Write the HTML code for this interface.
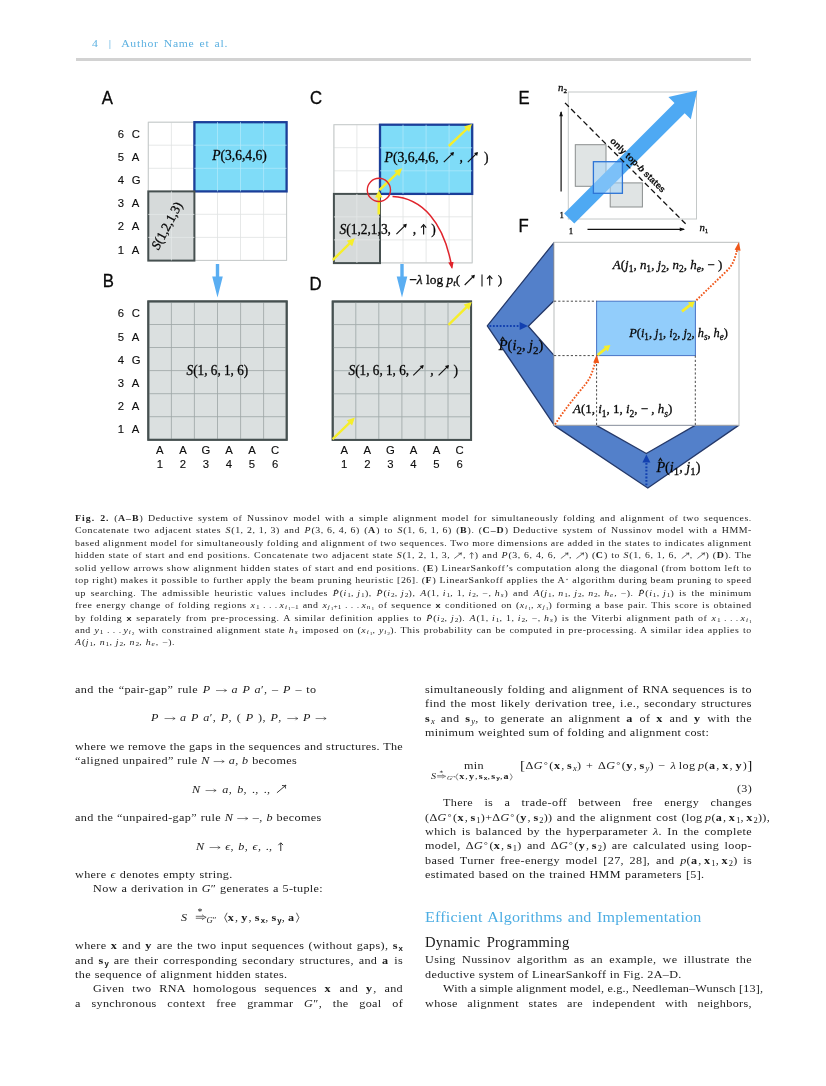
<!DOCTYPE html>
<html><head><meta charset="utf-8"><title>page</title>
<style>
html,body{margin:0;padding:0;background:#fff;}
#pg{position:relative;width:826px;height:1086px;overflow:hidden;background:#fff;font-family:"Liberation Serif",serif;color:#1a1a1a;}
.rule{position:absolute;left:75.7px;top:57.8px;width:675.3px;height:3px;background:#d2d2d2;}
.l{will-change:transform;position:absolute;white-space:nowrap;text-align:justify;text-align-last:justify;transform-origin:0 0;}
.l.c{font-size:7.6px;line-height:12px;letter-spacing:0.4px;color:#222;transform:scaleX(1.30);}
.l.b{font-size:10.3px;line-height:14px;letter-spacing:0.3px;transform:scaleX(1.18);}
.l.e{font-size:7.2px;line-height:10px;letter-spacing:0.2px;transform:scaleX(1.40);}
.l.h1{font-size:15.6px;line-height:18px;letter-spacing:0.2px;color:#4cade3;transform:scaleX(1.03);}
.l.h2{font-size:14.5px;line-height:16px;letter-spacing:0.2px;transform:scaleX(1.01);}
.l.hd{font-size:10.2px;line-height:14px;letter-spacing:0.62px;color:#5db1e1;transform:scaleX(1.15);}
sub,sup{font-size:0.7em;line-height:0;letter-spacing:0.1px;}
sub{vertical-align:-0.22em;} sup{vertical-align:0.42em;}
sub.ss{font-size:0.75em;vertical-align:-0.25em;}
.bx{font-family:"Liberation Sans",sans-serif;font-weight:bold;font-size:0.92em;}
.mb{font-weight:bold;}
.hat{position:relative;display:inline-block;text-align:left;text-align-last:left;}
.hat:before{content:"^";position:absolute;left:0.22em;top:-0.42em;font-size:0.8em;font-style:normal;}
svg.ne{display:inline-block;width:0.95em;height:0.95em;vertical-align:-0.12em;}
svg.ang{display:inline-block;width:0.38em;height:1.1em;vertical-align:-0.25em;}
svg.darr{display:inline-block;width:0.98em;height:0.64em;vertical-align:0.0em;}
.dst{position:relative;display:inline-block;}
.st{position:absolute;left:0.32em;top:-0.5em;font-size:0.55em;line-height:1;}
.bk{font-size:1.25em;line-height:0;position:relative;top:0.06em;}
#fig{position:absolute;left:0;top:0;will-change:transform;}

.ts{display:inline-block;width:0.16em;}
.dots{letter-spacing:0.32em;margin-right:-0.1em;}
svg.upa{display:inline-block;width:0.55em;height:0.92em;vertical-align:-0.12em;}
.l.c .ts{width:0.34em;}
.l.c i{letter-spacing:0.75px;}
.l.c b{letter-spacing:0.75px;}
.l.c sub{font-size:0.74em;}
.l.c .dots{letter-spacing:0.34em;}
svg.ra{display:inline-block;width:0.98em;height:0.49em;vertical-align:0.02em;}
.l.b .ts,.l.e .ts{width:0.2em;}
.l.b .mb{letter-spacing:1.0px;}
.l.b .deg{margin:0 0.9px 0 0.6px;}
.deg{font-size:0.85em;position:relative;top:-0.08em;}
#fig text{stroke:#111;stroke-width:0.3px;fill:#000;}
#fig text.sn{stroke:#111;stroke-width:0.12px;fill:#0a0a0a;}
#fig text.pl{stroke:#000;stroke-width:0.3px;}

</style></head>
<body>
<div id="pg">
<div class="rule"></div>
<svg id="fig" width="826" height="500" viewBox="0 0 826 500" font-family="Liberation Serif, serif">
<defs>
<marker id="mr" viewBox="0 0 10 10" refX="8" refY="5" markerUnits="userSpaceOnUse" markerWidth="7" markerHeight="7" orient="auto"><path d="M0 1L10 5L0 9z" fill="#e0242c"/></marker>
<marker id="mk" viewBox="0 0 10 10" refX="8" refY="5" markerWidth="5.2" markerHeight="4.4" orient="auto"><path d="M0 1.5L10 5L0 8.5z" fill="#111"/></marker>
</defs>
<text transform="translate(101.8,103.9) scale(0.93,1)" class="sn pl" font-family="Liberation Sans, sans-serif" font-size="18" fill="#000">A</text>
<path d="M148.3 122.2V260.4M148.3 122.2H286.6M171.4 122.2V260.4M148.3 145.2H286.6M194.4 122.2V260.4M148.3 168.3H286.6M217.5 122.2V260.4M148.3 191.3H286.6M240.5 122.2V260.4M148.3 214.3H286.6M263.6 122.2V260.4M148.3 237.4H286.6M286.6 122.2V260.4M148.3 260.4H286.6" stroke="#dfe2e2" stroke-width="0.8" fill="none"/>
<rect x="148.3" y="122.2" width="138.3" height="138.2" fill="none" stroke="#c6caca" stroke-width="1"/>
<rect x="194.4" y="122.2" width="92.2" height="69.2" fill="#7fdcf8" stroke="#1b3e99" stroke-width="2.3"/>
<rect x="148.3" y="191.4" width="46.1" height="69.2" fill="#d6dada" stroke="#465050" stroke-width="2.0"/>
<path d="M171.4 191.4V260.4M148.3 214.4H194.4M148.3 237.4H194.4" stroke="#e4e8e8" stroke-width="0.8" fill="none"/>
<path d="M217.5 122.2V191.4M240.5 122.2V191.4M263.6 122.2V191.4M194.4 145.2H286.6M194.4 168.3H286.6" stroke="#b4e9fb" stroke-width="0.7" fill="none"/>
<text x="117.8" y="138.2" class="sn" font-family="Liberation Sans, sans-serif" font-size="11.3" fill="#111">6</text>
<text x="131.8" y="138.2" class="sn" font-family="Liberation Sans, sans-serif" font-size="11.3" fill="#111">C</text>
<text x="117.8" y="161.3" class="sn" font-family="Liberation Sans, sans-serif" font-size="11.3" fill="#111">5</text>
<text x="131.8" y="161.3" class="sn" font-family="Liberation Sans, sans-serif" font-size="11.3" fill="#111">A</text>
<text x="117.8" y="184.3" class="sn" font-family="Liberation Sans, sans-serif" font-size="11.3" fill="#111">4</text>
<text x="131.8" y="184.3" class="sn" font-family="Liberation Sans, sans-serif" font-size="11.3" fill="#111">G</text>
<text x="117.8" y="207.4" class="sn" font-family="Liberation Sans, sans-serif" font-size="11.3" fill="#111">3</text>
<text x="131.8" y="207.4" class="sn" font-family="Liberation Sans, sans-serif" font-size="11.3" fill="#111">A</text>
<text x="117.8" y="230.4" class="sn" font-family="Liberation Sans, sans-serif" font-size="11.3" fill="#111">2</text>
<text x="131.8" y="230.4" class="sn" font-family="Liberation Sans, sans-serif" font-size="11.3" fill="#111">A</text>
<text x="117.8" y="253.5" class="sn" font-family="Liberation Sans, sans-serif" font-size="11.3" fill="#111">1</text>
<text x="131.8" y="253.5" class="sn" font-family="Liberation Sans, sans-serif" font-size="11.3" fill="#111">A</text>
<text x="239.5" y="160.3" font-size="13.6" fill="#111" text-anchor="middle"><tspan font-style="italic">P</tspan>(3,6,4,6)</text>
<text transform="translate(170.6,227.6) rotate(-62)" font-size="13.2" fill="#111" text-anchor="middle"><tspan font-style="italic">S</tspan>(1,2,1,3)</text>
<path d="M215.8 264.1V276.4H212.2L217.5 297.4L222.8 276.4H219.2V264.1z" fill="#5aaef2"/>
<text transform="translate(102.8,286.8) scale(0.93,1)" class="sn pl" font-family="Liberation Sans, sans-serif" font-size="18" fill="#000">B</text>
<rect x="148.3" y="301.4" width="138.4" height="138.4" fill="#dbe0e0" stroke="#465050" stroke-width="1.9"/>
<path d="M148.3 301.4V439.8M148.3 301.4H286.7M171.4 301.4V439.8M148.3 324.5H286.7M194.4 301.4V439.8M148.3 347.5H286.7M217.5 301.4V439.8M148.3 370.6H286.7M240.6 301.4V439.8M148.3 393.7H286.7M263.6 301.4V439.8M148.3 416.7H286.7M286.7 301.4V439.8M148.3 439.8H286.7" stroke="#9ca5a5" stroke-width="0.8" fill="none"/>
<rect x="148.3" y="301.4" width="138.4" height="138.4" fill="none" stroke="#465050" stroke-width="1.9"/>
<text x="117.8" y="317.4" class="sn" font-family="Liberation Sans, sans-serif" font-size="11.3" fill="#111">6</text>
<text x="131.8" y="317.4" class="sn" font-family="Liberation Sans, sans-serif" font-size="11.3" fill="#111">C</text>
<text x="117.8" y="340.5" class="sn" font-family="Liberation Sans, sans-serif" font-size="11.3" fill="#111">5</text>
<text x="131.8" y="340.5" class="sn" font-family="Liberation Sans, sans-serif" font-size="11.3" fill="#111">A</text>
<text x="117.8" y="363.6" class="sn" font-family="Liberation Sans, sans-serif" font-size="11.3" fill="#111">4</text>
<text x="131.8" y="363.6" class="sn" font-family="Liberation Sans, sans-serif" font-size="11.3" fill="#111">G</text>
<text x="117.8" y="386.6" class="sn" font-family="Liberation Sans, sans-serif" font-size="11.3" fill="#111">3</text>
<text x="131.8" y="386.6" class="sn" font-family="Liberation Sans, sans-serif" font-size="11.3" fill="#111">A</text>
<text x="117.8" y="409.7" class="sn" font-family="Liberation Sans, sans-serif" font-size="11.3" fill="#111">2</text>
<text x="131.8" y="409.7" class="sn" font-family="Liberation Sans, sans-serif" font-size="11.3" fill="#111">A</text>
<text x="117.8" y="432.8" class="sn" font-family="Liberation Sans, sans-serif" font-size="11.3" fill="#111">1</text>
<text x="131.8" y="432.8" class="sn" font-family="Liberation Sans, sans-serif" font-size="11.3" fill="#111">A</text>
<text x="159.8" y="453.6" class="sn" font-family="Liberation Sans, sans-serif" font-size="11.3" fill="#111" text-anchor="middle">A</text>
<text x="159.8" y="468.2" class="sn" font-family="Liberation Sans, sans-serif" font-size="11.3" fill="#111" text-anchor="middle">1</text>
<text x="182.9" y="453.6" class="sn" font-family="Liberation Sans, sans-serif" font-size="11.3" fill="#111" text-anchor="middle">A</text>
<text x="182.9" y="468.2" class="sn" font-family="Liberation Sans, sans-serif" font-size="11.3" fill="#111" text-anchor="middle">2</text>
<text x="205.9" y="453.6" class="sn" font-family="Liberation Sans, sans-serif" font-size="11.3" fill="#111" text-anchor="middle">G</text>
<text x="205.9" y="468.2" class="sn" font-family="Liberation Sans, sans-serif" font-size="11.3" fill="#111" text-anchor="middle">3</text>
<text x="229.0" y="453.6" class="sn" font-family="Liberation Sans, sans-serif" font-size="11.3" fill="#111" text-anchor="middle">A</text>
<text x="229.0" y="468.2" class="sn" font-family="Liberation Sans, sans-serif" font-size="11.3" fill="#111" text-anchor="middle">4</text>
<text x="252.0" y="453.6" class="sn" font-family="Liberation Sans, sans-serif" font-size="11.3" fill="#111" text-anchor="middle">A</text>
<text x="252.0" y="468.2" class="sn" font-family="Liberation Sans, sans-serif" font-size="11.3" fill="#111" text-anchor="middle">5</text>
<text x="275.1" y="453.6" class="sn" font-family="Liberation Sans, sans-serif" font-size="11.3" fill="#111" text-anchor="middle">C</text>
<text x="275.1" y="468.2" class="sn" font-family="Liberation Sans, sans-serif" font-size="11.3" fill="#111" text-anchor="middle">6</text>
<text x="186.6" y="374.8" font-size="13.6" fill="#111" textLength="61.6" lengthAdjust="spacingAndGlyphs"><tspan font-style="italic">S</tspan>(1, 6, 1, 6)</text>
<text transform="translate(310.0,103.6) scale(0.93,1)" class="sn pl" font-family="Liberation Sans, sans-serif" font-size="18" fill="#000">C</text>
<path d="M333.9 124.7V262.9M333.9 124.7H472.2M356.9 124.7V262.9M333.9 147.7H472.2M380.0 124.7V262.9M333.9 170.8H472.2M403.0 124.7V262.9M333.9 193.8H472.2M426.1 124.7V262.9M333.9 216.8H472.2M449.1 124.7V262.9M333.9 239.9H472.2M472.2 124.7V262.9M333.9 262.9H472.2" stroke="#dfe2e2" stroke-width="0.8" fill="none"/>
<rect x="333.9" y="124.7" width="138.3" height="138.2" fill="none" stroke="#c6caca" stroke-width="1"/>
<rect x="380.0" y="124.7" width="92.2" height="69.2" fill="#7fdcf8" stroke="#1b3e99" stroke-width="2.3"/>
<rect x="333.9" y="193.9" width="46.1" height="69.2" fill="#d6dada" stroke="#465050" stroke-width="2.0"/>
<path d="M356.9 193.9V262.9M333.9 216.9H380.0M333.9 239.9H380.0" stroke="#e4e8e8" stroke-width="0.8" fill="none"/>
<path d="M403.0 124.7V193.9M426.1 124.7V193.9M449.1 124.7V193.9M380.0 147.8H472.2M380.0 170.8H472.2" stroke="#b4e9fb" stroke-width="0.7" fill="none"/>
<polygon points="333.6,260.9 350.3,244.4 352.2,246.2 354.9,238.2 346.8,240.8 348.6,242.7 332.0,259.1" fill="#f6ee2a"/>
<polygon points="380.1,214.5 380.1,197.5 382.6,197.5 378.8,190.5 375.0,197.5 377.5,197.5 377.5,214.5" fill="#f6ee2a"/>
<polygon points="380.2,190.9 397.5,174.4 399.3,176.3 402.2,168.3 394.1,170.8 395.9,172.7 378.6,189.1" fill="#f6ee2a"/>
<polygon points="449.6,146.9 467.3,130.1 469.1,132.0 472.0,124.0 463.9,126.5 465.7,128.4 448.0,145.1" fill="#f6ee2a"/>
<circle cx="378.9" cy="189.9" r="11.6" fill="none" stroke="#e0242c" stroke-width="1.4"/>
<path d="M392.5 196.6C422 198 444 222 451.9 267.6" fill="none" stroke="#e0242c" stroke-width="1.5" marker-end="url(#mr)"/>
<text x="384.6" y="161.8" font-size="13.6" fill="#111" textLength="54" lengthAdjust="spacingAndGlyphs"><tspan font-style="italic">P</tspan>(3,6,4,6,</text>
<path d="M443.8 162.2L453.2 152.8" fill="none" stroke="#111" stroke-width="1.15"/>
<path d="M454.0 152.0L450.0 152.9L453.1 156.0z" fill="#111"/>
<text x="459.6" y="161.8" font-size="13.6" fill="#111">,</text>
<path d="M467.8 162.2L477.2 152.8" fill="none" stroke="#111" stroke-width="1.15"/>
<path d="M478.0 152.0L474.0 152.9L477.1 156.0z" fill="#111"/>
<text x="484.0" y="161.8" font-size="13.6" fill="#111">)</text>
<text x="339.5" y="233.8" font-size="13.6" fill="#111" textLength="51.5" lengthAdjust="spacingAndGlyphs"><tspan font-style="italic">S</tspan>(1,2,1,3,</text>
<path d="M396.4 234.2L406.0 224.6" fill="none" stroke="#111" stroke-width="1.15"/>
<path d="M406.8 223.8L402.7 224.7L405.9 227.9z" fill="#111"/>
<text x="412.8" y="233.8" font-size="13.6" fill="#111">,</text>
<path d="M423.6 234.4V225.4" fill="none" stroke="#111" stroke-width="1.15"/>
<path d="M421.0 227.6L423.6 224.7L426.2 227.6M423.6 234.4" fill="none" stroke="#111" stroke-width="1.15" stroke-linejoin="miter"/>
<text x="431.2" y="233.8" font-size="13.6" fill="#111">)</text>
<path d="M400.3 264.1V276.4H396.7L402.0 297.4L407.3 276.4H403.7V264.1z" fill="#5aaef2"/>
<text x="409.2" y="283.6" font-size="13.4" fill="#111" textLength="51" lengthAdjust="spacingAndGlyphs"><tspan font-weight="bold">−</tspan><tspan font-style="italic">λ</tspan> log <tspan font-style="italic">p</tspan><tspan font-style="italic" font-size="9" dy="2.5">t</tspan><tspan dy="-2.5">(</tspan></text>
<path d="M464.7 285.0L474.1 275.6" fill="none" stroke="#111" stroke-width="1.15"/>
<path d="M474.9 274.8L470.9 275.7L474.0 278.8z" fill="#111"/>
<path d="M482 274.6V286.6" stroke="#111" stroke-width="1.1"/>
<path d="M489.7 285.6V276.6" fill="none" stroke="#111" stroke-width="1.15"/>
<path d="M487.1 278.8L489.7 275.9L492.3 278.8M489.7 285.6" fill="none" stroke="#111" stroke-width="1.15" stroke-linejoin="miter"/>
<text x="497.8" y="283.6" font-size="13.4" fill="#111">)</text>
<text transform="translate(309.6,289.5) scale(0.93,1)" class="sn pl" font-family="Liberation Sans, sans-serif" font-size="18" fill="#000">D</text>
<rect x="332.7" y="301.5" width="138.4" height="138.4" fill="#dbe0e0" stroke="#465050" stroke-width="1.9"/>
<path d="M332.7 301.5V439.9M332.7 301.5H471.1M355.8 301.5V439.9M332.7 324.6H471.1M378.8 301.5V439.9M332.7 347.6H471.1M401.9 301.5V439.9M332.7 370.7H471.1M425.0 301.5V439.9M332.7 393.8H471.1M448.0 301.5V439.9M332.7 416.8H471.1M471.1 301.5V439.9M332.7 439.9H471.1" stroke="#a3acac" stroke-width="0.9" fill="none"/>
<rect x="332.7" y="301.5" width="138.4" height="138.4" fill="none" stroke="#465050" stroke-width="1.9"/>
<polygon points="333.4,440.1 350.3,423.7 352.1,425.6 354.9,417.6 346.8,420.2 348.6,422.0 331.8,438.3" fill="#f6ee2a"/>
<polygon points="449.3,325.8 467.2,308.2 469.0,310.0 471.8,302.0 463.7,304.6 465.5,306.5 447.7,324.0" fill="#f6ee2a"/>
<text x="344.2" y="453.6" class="sn" font-family="Liberation Sans, sans-serif" font-size="11.3" fill="#111" text-anchor="middle">A</text>
<text x="344.2" y="468.2" class="sn" font-family="Liberation Sans, sans-serif" font-size="11.3" fill="#111" text-anchor="middle">1</text>
<text x="367.3" y="453.6" class="sn" font-family="Liberation Sans, sans-serif" font-size="11.3" fill="#111" text-anchor="middle">A</text>
<text x="367.3" y="468.2" class="sn" font-family="Liberation Sans, sans-serif" font-size="11.3" fill="#111" text-anchor="middle">2</text>
<text x="390.4" y="453.6" class="sn" font-family="Liberation Sans, sans-serif" font-size="11.3" fill="#111" text-anchor="middle">G</text>
<text x="390.4" y="468.2" class="sn" font-family="Liberation Sans, sans-serif" font-size="11.3" fill="#111" text-anchor="middle">3</text>
<text x="413.4" y="453.6" class="sn" font-family="Liberation Sans, sans-serif" font-size="11.3" fill="#111" text-anchor="middle">A</text>
<text x="413.4" y="468.2" class="sn" font-family="Liberation Sans, sans-serif" font-size="11.3" fill="#111" text-anchor="middle">4</text>
<text x="436.5" y="453.6" class="sn" font-family="Liberation Sans, sans-serif" font-size="11.3" fill="#111" text-anchor="middle">A</text>
<text x="436.5" y="468.2" class="sn" font-family="Liberation Sans, sans-serif" font-size="11.3" fill="#111" text-anchor="middle">5</text>
<text x="459.6" y="453.6" class="sn" font-family="Liberation Sans, sans-serif" font-size="11.3" fill="#111" text-anchor="middle">C</text>
<text x="459.6" y="468.2" class="sn" font-family="Liberation Sans, sans-serif" font-size="11.3" fill="#111" text-anchor="middle">6</text>
<text x="348.6" y="374.8" font-size="13.6" fill="#111" textLength="60.5" lengthAdjust="spacingAndGlyphs"><tspan font-style="italic">S</tspan>(1, 6, 1, 6,</text>
<path d="M413.3 375.4L422.9 365.8" fill="none" stroke="#111" stroke-width="1.15"/>
<path d="M423.7 365.0L419.6 365.9L422.8 369.1z" fill="#111"/>
<text x="430.2" y="374.8" font-size="13.6" fill="#111">,</text>
<path d="M438.6 375.4L448.2 365.8" fill="none" stroke="#111" stroke-width="1.15"/>
<path d="M449.0 365.0L444.9 365.9L448.1 369.1z" fill="#111"/>
<text x="453.6" y="374.8" font-size="13.6" fill="#111">)</text>
<text transform="translate(518.6,103.9) scale(0.93,1)" class="sn pl" font-family="Liberation Sans, sans-serif" font-size="18" fill="#000">E</text>
<rect x="568.3" y="92.0" width="128.2" height="127.0" fill="#fff" stroke="#c4c8c8" stroke-width="1"/>
<rect x="575.3" y="144.7" width="30.7" height="41.6" fill="#e0e4e4" stroke="#8a8e8e" stroke-width="1"/>
<rect x="610.2" y="182.9" width="32.2" height="24.1" fill="#e0e4e4" stroke="#8a8e8e" stroke-width="1"/>
<polygon points="574.3,223.6 684.7,113.3 690.8,119.3 697.3,90.5 668.4,97.0 674.5,103.1 564.1,213.4" fill="#4ea9f3"/>
<rect x="593.4" y="161.7" width="29" height="31.6" fill="rgba(160,212,252,0.55)" stroke="#2d74d6" stroke-width="1.3"/>
<path d="M565.0 102.9L685.6 223.8" stroke="#111" stroke-width="1.3" stroke-dasharray="5.5 3.2" fill="none"/>
<path d="M561.1 191.5V112" stroke="#111" stroke-width="1.2" marker-end="url(#mk)"/>
<path d="M587.5 229.3H684" stroke="#111" stroke-width="1.2" marker-end="url(#mk)"/>
<text transform="translate(609.5,141.5) rotate(44.5)" class="sn" font-family="Liberation Sans, sans-serif" font-size="9.2" font-weight="bold" fill="#111">only top-<tspan font-style="italic">b</tspan> states</text>
<text x="558.0" y="91.4" font-size="10.8" fill="#111"><tspan font-style="italic">n</tspan><tspan font-size="7" dy="2">2</tspan></text>
<text x="699.4" y="231.2" font-size="10.8" fill="#111"><tspan font-style="italic">n</tspan><tspan font-size="7" dy="2">1</tspan></text>
<text x="559.6" y="217.8" font-size="8.8" fill="#111">1</text>
<text x="568.8" y="233.8" font-size="8.8" fill="#111">1</text>
<text transform="translate(518.4,232.1) scale(0.93,1)" class="sn pl" font-family="Liberation Sans, sans-serif" font-size="18" fill="#000">F</text>
<polygon points="554,242.6 487.3,325.8 554,424.8 554,355.4 528.3,326.2 554,300.8" fill="#5380ca" stroke="#25396a" stroke-width="1.3" stroke-linejoin="round"/>
<polygon points="554,425.4 738.6,425.4 647.8,488" fill="#5380ca" stroke="#25396a" stroke-width="1.3" stroke-linejoin="round"/>
<polygon points="596.4,425.4 695.2,425.4 646.3,453.5" fill="#fff" stroke="#25396a" stroke-width="1.3" stroke-linejoin="round"/>
<rect x="554.0" y="242.3" width="185.0" height="182.9" fill="#fff" stroke="#b9bdbd" stroke-width="1"/>
<rect x="596.6" y="301.2" width="98.8" height="54.4" fill="#92cdfb" stroke="#4774c6" stroke-width="1"/>
<path d="M554 301.2H596.6M554 355.6H596.6M596.6 355.6V425M695.3 355.6V425" stroke="#4a4a4a" stroke-width="1" stroke-dasharray="2.2 2" fill="none"/>
<path d="M555 424.4C563 412 571 402 578.1 393.2C583 387 587 383 589.6 378C592 373 593.5 369 595.6 361" fill="none" stroke="#f0571a" stroke-width="1.9" stroke-dasharray="1.7 1.5"/>
<path d="M593.2 362.6L596.8 354.6L599.2 363.2z" fill="#f0571a"/>
<path d="M696.4 300.2L725.6 272C730 268 732.6 264 734.3 259.4C735.5 256 736.3 253 737.4 249" fill="none" stroke="#f0571a" stroke-width="1.9" stroke-dasharray="1.7 1.5"/>
<path d="M734.6 249.8L738.8 242.2L740.6 250.8z" fill="#f0571a"/>
<polygon points="598.4,356.1 606.5,349.8 607.9,351.5 610.4,345.0 603.5,345.9 604.8,347.6 596.8,353.9" fill="#f6ee2a"/>
<polygon points="682.8,312.5 690.9,306.2 692.3,307.9 694.8,301.4 687.9,302.3 689.2,304.0 681.2,310.3" fill="#f6ee2a"/>
<path d="M489.5 326H519" stroke="#1240b0" stroke-width="2.1" stroke-dasharray="1.8 1.6" fill="none"/>
<path d="M519.6 322L528 326L519.6 330z" fill="#1240b0"/>
<path d="M646.4 485.2V463" stroke="#1240b0" stroke-width="2.1" stroke-dasharray="1.8 1.6" fill="none"/>
<path d="M642.4 462.4L646.4 454.6L650.4 462.4z" fill="#1240b0"/>
<text x="612.8" y="268.8" font-size="13" fill="#111" lengthAdjust="spacingAndGlyphs" textLength="109.4"><tspan font-style="italic">A</tspan>(<tspan font-style="italic">j</tspan><tspan font-size="9.6" dy="3.3">1</tspan><tspan dy="-3.3">​</tspan>, <tspan font-style="italic">n</tspan><tspan font-size="9.6" dy="3.3">1</tspan><tspan dy="-3.3">​</tspan>, <tspan font-style="italic">j</tspan><tspan font-size="9.6" dy="3.3">2</tspan><tspan dy="-3.3">​</tspan>, <tspan font-style="italic">n</tspan><tspan font-size="9.6" dy="3.3">2</tspan><tspan dy="-3.3">​</tspan>, <tspan font-style="italic">h</tspan><tspan font-size="9.6" dy="3.3" font-style="italic">e</tspan><tspan dy="-3.3">​</tspan>, − )</text>
<text x="629.2" y="336.6" font-size="13" fill="#111" lengthAdjust="spacingAndGlyphs" textLength="98.8"><tspan font-style="italic">P</tspan>(<tspan font-style="italic">i</tspan><tspan font-size="9.6" dy="3.3">1</tspan><tspan dy="-3.3">​</tspan>, <tspan font-style="italic">j</tspan><tspan font-size="9.6" dy="3.3">1</tspan><tspan dy="-3.3">​</tspan>, <tspan font-style="italic">i</tspan><tspan font-size="9.6" dy="3.3">2</tspan><tspan dy="-3.3">​</tspan>, <tspan font-style="italic">j</tspan><tspan font-size="9.6" dy="3.3">2</tspan><tspan dy="-3.3">​</tspan>, <tspan font-style="italic">h</tspan><tspan font-size="9.6" dy="3.3" font-style="italic">s</tspan><tspan dy="-3.3">​</tspan>, <tspan font-style="italic">h</tspan><tspan font-size="9.6" dy="3.3" font-style="italic">e</tspan><tspan dy="-3.3">​</tspan>)</text>
<text x="573.0" y="413.4" font-size="13" fill="#111" lengthAdjust="spacingAndGlyphs" textLength="99.2"><tspan font-style="italic">A</tspan>(1, <tspan font-style="italic">i</tspan><tspan font-size="9.6" dy="3.3">1</tspan><tspan dy="-3.3">​</tspan>, 1, <tspan font-style="italic">i</tspan><tspan font-size="9.6" dy="3.3">2</tspan><tspan dy="-3.3">​</tspan>, − , <tspan font-style="italic">h</tspan><tspan font-size="9.6" dy="3.3" font-style="italic">s</tspan><tspan dy="-3.3">​</tspan>)</text>
<text x="498.8" y="350.4" font-size="14.2" fill="#111" lengthAdjust="spacingAndGlyphs" textLength="44.6"><tspan font-style="italic">P</tspan>(<tspan font-style="italic">i</tspan><tspan font-size="10.8" dy="3.8">2</tspan><tspan dy="-3.8">​</tspan>, <tspan font-style="italic">j</tspan><tspan font-size="10.8" dy="3.8">2</tspan><tspan dy="-3.8">​</tspan>)</text>
<path d="M501 339.9L502.7 337.2L504.4 339.9" fill="none" stroke="#111" stroke-width="1.1"/>
<text x="656.4" y="471.6" font-size="14.2" fill="#111" lengthAdjust="spacingAndGlyphs" textLength="44"><tspan font-style="italic">P</tspan>(<tspan font-style="italic">i</tspan><tspan font-size="10.8" dy="3.8">1</tspan><tspan dy="-3.8">​</tspan>, <tspan font-style="italic">j</tspan><tspan font-size="10.8" dy="3.8">1</tspan><tspan dy="-3.8">​</tspan>)</text>
<path d="M658.7 461.1L660.4 458.4L662.1 461.1" fill="none" stroke="#111" stroke-width="1.1"/>
</svg>
<div class="l c" style="left:75.4px;top:512.7px;width:520.6px"><b>Fig. 2.</b> (<b>A–B</b>) Deductive system of Nussinov model with a simple alignment model for simultaneously folding and alignment of two sequences.</div>
<div class="l c" style="left:75.4px;top:525.2px;width:520.6px">Concatenate two adjacent states <i>S</i>(1,<span class="ts"></span>2,<span class="ts"></span>1,<span class="ts"></span>3) and <i>P</i>(3,<span class="ts"></span>6,<span class="ts"></span>4,<span class="ts"></span>6) (<b>A</b>) to <i>S</i>(1,<span class="ts"></span>6,<span class="ts"></span>1,<span class="ts"></span>6) (<b>B</b>). (<b>C–D</b>) Deductive system of Nussinov model with a HMM-</div>
<div class="l c" style="left:75.4px;top:537.7px;width:520.6px">based alignment model for simultaneously folding and alignment of two sequences. Two more dimensions are added in the states to indicates alignment</div>
<div class="l c" style="left:75.4px;top:550.1px;width:520.6px">hidden state of start and end positions. Concatenate two adjacent state <i>S</i>(1,<span class="ts"></span>2,<span class="ts"></span>1,<span class="ts"></span>3,<span class="ts"></span><svg class="ne" viewBox="0 0 10 10"><path d="M1 9L8.6 1.4M5.4 1.5Q7.4 2.2 8.8 1.2Q7.8 2.6 8.5 4.6" fill="none" stroke="currentColor" stroke-width="0.8"/></svg>,<span class="ts"></span><svg class="upa" viewBox="0 0 6 10"><path d="M3 9.6V1M0.8 3.4L3 0.8L5.2 3.4" fill="none" stroke="currentColor" stroke-width="0.85"/></svg>) and <i>P</i>(3,<span class="ts"></span>6,<span class="ts"></span>4,<span class="ts"></span>6,<span class="ts"></span><svg class="ne" viewBox="0 0 10 10"><path d="M1 9L8.6 1.4M5.4 1.5Q7.4 2.2 8.8 1.2Q7.8 2.6 8.5 4.6" fill="none" stroke="currentColor" stroke-width="0.8"/></svg>,<span class="ts"></span><svg class="ne" viewBox="0 0 10 10"><path d="M1 9L8.6 1.4M5.4 1.5Q7.4 2.2 8.8 1.2Q7.8 2.6 8.5 4.6" fill="none" stroke="currentColor" stroke-width="0.8"/></svg>) (<b>C</b>) to <i>S</i>(1,<span class="ts"></span>6,<span class="ts"></span>1,<span class="ts"></span>6,<span class="ts"></span><svg class="ne" viewBox="0 0 10 10"><path d="M1 9L8.6 1.4M5.4 1.5Q7.4 2.2 8.8 1.2Q7.8 2.6 8.5 4.6" fill="none" stroke="currentColor" stroke-width="0.8"/></svg>,<span class="ts"></span><svg class="ne" viewBox="0 0 10 10"><path d="M1 9L8.6 1.4M5.4 1.5Q7.4 2.2 8.8 1.2Q7.8 2.6 8.5 4.6" fill="none" stroke="currentColor" stroke-width="0.8"/></svg>) (<b>D</b>). The</div>
<div class="l c" style="left:75.4px;top:562.6px;width:520.6px">solid yellow arrows show alignment hidden states of start and end positions. (<b>E</b>) LinearSankoff’s computation along the diagonal (from bottom left to</div>
<div class="l c" style="left:75.4px;top:575.1px;width:520.6px">top right) makes it possible to further apply the beam pruning heuristic [26]. (<b>F</b>) LinearSankoff applies the A<sup>⋆</sup> algorithm during beam pruning to speed</div>
<div class="l c" style="left:75.4px;top:587.6px;width:520.6px">up searching. The admissible heuristic values includes <span class="hat"><i>P</i></span>(<i>i</i><sub>1</sub>,<span class="ts"></span><i>j</i><sub>1</sub>), <span class="hat"><i>P</i></span>(<i>i</i><sub>2</sub>,<span class="ts"></span><i>j</i><sub>2</sub>), <i>A</i>(1,<span class="ts"></span><i>i</i><sub>1</sub>,<span class="ts"></span>1,<span class="ts"></span><i>i</i><sub>2</sub>,<span class="ts"></span>−,<span class="ts"></span><i>h</i><sub><i>s</i></sub>) and <i>A</i>(<i>j</i><sub>1</sub>,<span class="ts"></span><i>n</i><sub>1</sub>,<span class="ts"></span><i>j</i><sub>2</sub>,<span class="ts"></span><i>n</i><sub>2</sub>,<span class="ts"></span><i>h</i><sub><i>e</i></sub>,<span class="ts"></span>−). <span class="hat"><i>P</i></span>(<i>i</i><sub>1</sub>,<span class="ts"></span><i>j</i><sub>1</sub>) is the minimum</div>
<div class="l c" style="left:75.4px;top:600.0px;width:520.6px">free energy change of folding regions <i>x</i><sub>1</sub><span class="ts"></span><span class="dots">...</span><i>x</i><sub><i>i</i><sub class="ss">1</sub>−1</sub> and <i>x</i><sub><i>j</i><sub class="ss">1</sub>+1</sub><span class="ts"></span><span class="dots">...</span><i>x</i><sub><i>n</i><sub class="ss">1</sub></sub> of sequence <span class="bx">x</span> conditioned on (<i>x</i><sub><i>i</i><sub class="ss">1</sub></sub>,<span class="ts"></span><i>x</i><sub><i>j</i><sub class="ss">1</sub></sub>) forming a base pair. This score is obtained</div>
<div class="l c" style="left:75.4px;top:612.5px;width:520.6px">by folding <span class="bx">x</span> separately from pre-processing. A similar definition applies to <span class="hat"><i>P</i></span>(<i>i</i><sub>2</sub>,<span class="ts"></span><i>j</i><sub>2</sub>). <i>A</i>(1,<span class="ts"></span><i>i</i><sub>1</sub>,<span class="ts"></span>1,<span class="ts"></span><i>i</i><sub>2</sub>,<span class="ts"></span>−,<span class="ts"></span><i>h</i><sub><i>s</i></sub>) is the Viterbi alignment path of <i>x</i><sub>1</sub><span class="ts"></span><span class="dots">...</span><i>x</i><sub><i>i</i><sub class="ss">1</sub></sub></div>
<div class="l c" style="left:75.4px;top:625.0px;width:520.6px">and <i>y</i><sub>1</sub><span class="ts"></span><span class="dots">...</span><i>y</i><sub><i>i</i><sub class="ss">2</sub></sub> with constrained alignment state <i>h</i><sub><i>s</i></sub> imposed on (<i>x</i><sub><i>i</i><sub class="ss">1</sub></sub>,<span class="ts"></span><i>y</i><sub><i>i</i><sub class="ss">2</sub></sub>). This probability can be computed in pre-processing. A similar idea applies to</div>
<div class="l c" style="left:75.4px;top:637.4px;width:79.5px"><i>A</i>(<i>j</i><sub>1</sub>,<span class="ts"></span><i>n</i><sub>1</sub>,<span class="ts"></span><i>j</i><sub>2</sub>,<span class="ts"></span><i>n</i><sub>2</sub>,<span class="ts"></span><i>h</i><sub><i>e</i></sub>,<span class="ts"></span>−).</div>
<div class="l b" style="left:75.4px;top:683.0px;width:204.7px">and the “pair-gap” rule <i>P</i> <svg class="ra" viewBox="0 0 20 10"><path d="M1 5H18.4M14.6 1.6Q15.8 4.2 18.8 5Q15.8 5.8 14.6 8.4" fill="none" stroke="currentColor" stroke-width="0.95"/></svg> <i>a P a</i>′, – <i>P</i> – to</div>
<div class="l b" style="left:150.7px;top:711.2px;width:149.4px"><i>P</i> <svg class="ra" viewBox="0 0 20 10"><path d="M1 5H18.4M14.6 1.6Q15.8 4.2 18.8 5Q15.8 5.8 14.6 8.4" fill="none" stroke="currentColor" stroke-width="0.95"/></svg> <i>a P a</i>′, <i>P</i>, ( <i>P</i> ), <i>P</i>, <svg class="ra" viewBox="0 0 20 10"><path d="M1 5H18.4M14.6 1.6Q15.8 4.2 18.8 5Q15.8 5.8 14.6 8.4" fill="none" stroke="currentColor" stroke-width="0.95"/></svg> <i>P</i> <svg class="ra" viewBox="0 0 20 10"><path d="M1 5H18.4M14.6 1.6Q15.8 4.2 18.8 5Q15.8 5.8 14.6 8.4" fill="none" stroke="currentColor" stroke-width="0.95"/></svg></div>
<div class="l b" style="left:75.4px;top:740.0px;width:278.0px;letter-spacing:0.276px">where we remove the gaps in the sequences and structures. The</div>
<div class="l b" style="left:75.4px;top:754.2px;width:188.2px">“aligned unpaired” rule <i>N</i> <svg class="ra" viewBox="0 0 20 10"><path d="M1 5H18.4M14.6 1.6Q15.8 4.2 18.8 5Q15.8 5.8 14.6 8.4" fill="none" stroke="currentColor" stroke-width="0.95"/></svg> <i>a</i>, <i>b</i> becomes</div>
<div class="l b" style="left:192.0px;top:782.6px;width:80.5px"><i>N</i> <svg class="ra" viewBox="0 0 20 10"><path d="M1 5H18.4M14.6 1.6Q15.8 4.2 18.8 5Q15.8 5.8 14.6 8.4" fill="none" stroke="currentColor" stroke-width="0.95"/></svg> <i>a</i>, <i>b</i>, ., ., <svg class="ne" viewBox="0 0 10 10"><path d="M1 9L8.6 1.4M5.4 1.5Q7.4 2.2 8.8 1.2Q7.8 2.6 8.5 4.6" fill="none" stroke="currentColor" stroke-width="0.8"/></svg></div>
<div class="l b" style="left:75.4px;top:811.1px;width:209.0px">and the “unpaired-gap” rule <i>N</i> <svg class="ra" viewBox="0 0 20 10"><path d="M1 5H18.4M14.6 1.6Q15.8 4.2 18.8 5Q15.8 5.8 14.6 8.4" fill="none" stroke="currentColor" stroke-width="0.95"/></svg> –, <i>b</i> becomes</div>
<div class="l b" style="left:196.4px;top:839.6px;width:74.2px"><i>N</i> <svg class="ra" viewBox="0 0 20 10"><path d="M1 5H18.4M14.6 1.6Q15.8 4.2 18.8 5Q15.8 5.8 14.6 8.4" fill="none" stroke="currentColor" stroke-width="0.95"/></svg> <i>ϵ</i>, <i>b</i>, <i>ϵ</i>, ., <svg class="upa" viewBox="0 0 6 10"><path d="M3 9.6V1M0.8 3.4L3 0.8L5.2 3.4" fill="none" stroke="currentColor" stroke-width="0.85"/></svg></div>
<div class="l b" style="left:75.4px;top:868.0px;width:133.6px">where <i>ϵ</i> denotes empty string.</div>
<div class="l b" style="left:93.4px;top:882.2px;width:195.0px">Now a derivation in <i>G</i>″ generates a 5-tuple:</div>
<div class="l b" style="left:180.7px;top:910.6px;width:100.8px;letter-spacing:0.646px"><i>S</i> <span class="dst"><svg class="darr" viewBox="0 0 12 8"><path d="M0.5 2.8H8.6M0.5 5.2H8.6M7 0.8Q8.6 3 11.2 4Q8.6 5 7 7.2" fill="none" stroke="currentColor" stroke-width="0.7"/></svg><span class="st">∗</span></span><sub><i>G</i>″</sub> <svg class="ang" viewBox="0 0 4 12"><path d="M3.2 0.8L1 6L3.2 11.2" fill="none" stroke="currentColor" stroke-width="0.7"/></svg><b class="mb">x</b>,<span class="ts"></span><b class="mb">y</b>,<span class="ts"></span><b class="mb">s</b><sub><span class="bx">x</span></sub>,<span class="ts"></span><b class="mb">s</b><sub><span class="bx">y</span></sub>,<span class="ts"></span><b class="mb">a</b><svg class="ang" viewBox="0 0 4 12"><path d="M0.8 0.8L3 6L0.8 11.2" fill="none" stroke="currentColor" stroke-width="0.7"/></svg></div>
<div class="l b" style="left:75.4px;top:939.1px;width:278.0px">where <b class="mb">x</b> and <b class="mb">y</b> are the two input sequences (without gaps), <b class="mb">s</b><sub><span class="bx">x</span></sub></div>
<div class="l b" style="left:75.4px;top:953.5px;width:278.0px">and <b class="mb">s</b><sub><span class="bx">y</span></sub> are their corresponding secondary structures, and <b class="mb">a</b> is</div>
<div class="l b" style="left:75.4px;top:967.8px;width:180.0px">the sequence of alignment hidden states.</div>
<div class="l b" style="left:93.4px;top:982.2px;width:262.7px">Given two RNA homologous sequences <b class="mb">x</b> and <b class="mb">y</b>, and</div>
<div class="l b" style="left:75.4px;top:996.5px;width:278.0px">a synchronous context free grammar <i>G</i>″, the goal of</div>
<div class="l b" style="left:425.4px;top:683.0px;width:277.1px">simultaneously folding and alignment of RNA sequences is to</div>
<div class="l b" style="left:425.4px;top:697.3px;width:277.1px">find the most likely derivation tree, i.e., secondary structures</div>
<div class="l b" style="left:425.4px;top:711.6px;width:277.1px"><b class="mb">s</b><sub><i>x</i></sub> and <b class="mb">s</b><sub><i>y</i></sub>, to generate an alignment <b class="mb">a</b> of <b class="mb">x</b> and <b class="mb">y</b> with the</div>
<div class="l b" style="left:425.4px;top:725.9px;width:240.9px;letter-spacing:0.271px">minimum weighted sum of folding and alignment cost:</div>
<div class="l b" style="left:737.0px;top:781.5px;width:13.1px;letter-spacing:0.259px">(3)</div>
<div class="l b" style="left:443.4px;top:796.1px;width:261.9px">There is a trade-off between free energy changes</div>
<div class="l b" style="left:425.4px;top:810.5px;width:292.5px">(Δ<i>G</i><span class="deg">°</span>(<b class="mb">x</b>,<span class="ts"></span><b class="mb">s</b><sub>1</sub>)+Δ<i>G</i><span class="deg">°</span>(<b class="mb">y</b>,<span class="ts"></span><b class="mb">s</b><sub>2</sub>)) and the alignment cost (log<span class="ts"></span><i>p</i>(<b class="mb">a</b>,<span class="ts"></span><b class="mb">x</b><sub>1</sub>,<span class="ts"></span><b class="mb">x</b><sub>2</sub>)),</div>
<div class="l b" style="left:425.4px;top:825.0px;width:277.1px">which is balanced by the hyperparameter <i>λ</i>. In the complete</div>
<div class="l b" style="left:425.4px;top:839.4px;width:277.1px">model, Δ<i>G</i><span class="deg">°</span>(<b class="mb">x</b>,<span class="ts"></span><b class="mb">s</b><sub>1</sub>) and Δ<i>G</i><span class="deg">°</span>(<b class="mb">y</b>,<span class="ts"></span><b class="mb">s</b><sub>2</sub>) are calculated using loop-</div>
<div class="l b" style="left:425.4px;top:853.7px;width:277.1px">based Turner free-energy model [27, 28], and <i>p</i>(<b class="mb">a</b>,<span class="ts"></span><b class="mb">x</b><sub>1</sub>,<span class="ts"></span><b class="mb">x</b><sub>2</sub>) is</div>
<div class="l b" style="left:425.4px;top:868.1px;width:236.9px">estimated based on the trained HMM parameters [5].</div>
<div class="l b" style="left:425.4px;top:953.4px;width:277.1px">Using Nussinov algorithm as an example, we illustrate the</div>
<div class="l b" style="left:425.4px;top:967.8px;width:217.5px;letter-spacing:0.281px">deductive system of LinearSankoff in Fig. 2A–D.</div>
<div class="l b" style="left:443.4px;top:982.1px;width:271.3px;letter-spacing:0.148px">With a simple alignment model, e.g., Needleman–Wunsch [13],</div>
<div class="l b" style="left:425.4px;top:996.5px;width:277.1px">whose alignment states are independent with neighbors,</div>
<div class="l b" style="left:463.5px;top:759.1px;width:17.5px">min</div>
<div class="l e" style="left:430.8px;top:772.0px;width:61.9px;letter-spacing:0.792px"><i>S</i><span class="dst"><svg class="darr" viewBox="0 0 12 8"><path d="M0.5 2.8H8.6M0.5 5.2H8.6M7 0.8Q8.6 3 11.2 4Q8.6 5 7 7.2" fill="none" stroke="currentColor" stroke-width="0.7"/></svg><span class="st">∗</span></span><sub><i>G</i>″</sub><svg class="ang" viewBox="0 0 4 12"><path d="M3.2 0.8L1 6L3.2 11.2" fill="none" stroke="currentColor" stroke-width="0.7"/></svg><b class="mb">x</b>,<b class="mb">y</b>,<b class="mb">s</b><sub><span class="bx">x</span></sub>,<b class="mb">s</b><sub><span class="bx">y</span></sub>,<b class="mb">a</b><svg class="ang" viewBox="0 0 4 12"><path d="M0.8 0.8L3 6L0.8 11.2" fill="none" stroke="currentColor" stroke-width="0.7"/></svg></div>
<div class="l b" style="left:519.5px;top:759.1px;width:197.2px;letter-spacing:0.386px"><span class="bk">[</span>Δ<i>G</i><span class="deg">°</span>(<b class="mb">x</b>,<span class="ts"></span><b class="mb">s</b><sub><i>x</i></sub>) + Δ<i>G</i><span class="deg">°</span>(<b class="mb">y</b>,<span class="ts"></span><b class="mb">s</b><sub><i>y</i></sub>) − <i>λ</i><span class="ts"></span>log<span class="ts"></span><i>p</i>(<b class="mb">a</b>,<span class="ts"></span><b class="mb">x</b>,<span class="ts"></span><b class="mb">y</b>)<span class="bk">]</span></div>
<div class="l h1" style="left:425.4px;top:908.3px;width:268.5px">Efficient Algorithms and Implementation</div>
<div class="l h2" style="left:425.4px;top:933.6px;width:143.0px">Dynamic Programming</div>
<div class="l hd" style="left:92.0px;top:36.6px;width:118.3px">4 &nbsp;|&nbsp; Author Name et al.</div>
</div>
</body></html>
